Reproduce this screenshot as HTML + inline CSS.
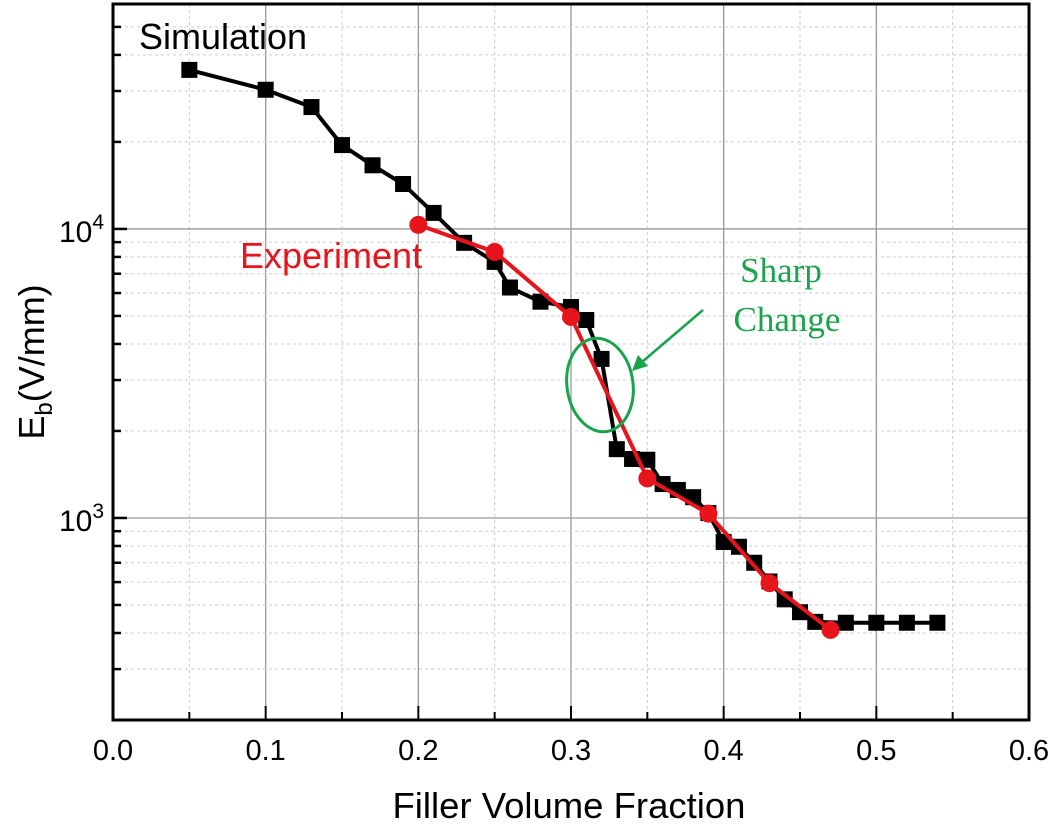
<!DOCTYPE html>
<html><head><meta charset="utf-8"><style>
body{margin:0;background:#fff}
svg{display:block;font-family:"Liberation Sans",sans-serif}
</style></head><body>
<svg id="chart" width="1050" height="828" viewBox="0 0 1050 828">
<g id="grid"></g>
<g id="axes"></g>
<g id="series"></g>
<text x="139" y="49" font-size="36" fill="#000">Simulation</text>
<text x="240" y="268" font-size="36" fill="#e8141c">Experiment</text>
<g>
<ellipse cx="600" cy="385" rx="33" ry="47" transform="rotate(-8 600 385)" fill="none" stroke="#19a34a" stroke-width="3"/>
<line x1="703" y1="310" x2="642" y2="362" stroke="#19a34a" stroke-width="2.5"/>
<polygon points="632,371 638,355 648,366" fill="#19a34a"/>
<text x="781" y="282" text-anchor="middle" font-family="Liberation Serif,serif" font-size="35" fill="#19a34a">Sharp</text>
<text x="787" y="331" text-anchor="middle" font-family="Liberation Serif,serif" font-size="35" fill="#19a34a">Change</text>
</g>
<text x="569" y="818" text-anchor="middle" font-size="36.5">Filler Volume Fraction</text>
<text transform="translate(44,362) rotate(-90)" text-anchor="middle" font-size="36">E<tspan font-size="24" dy="8">b</tspan><tspan dy="-8">(V/mm)</tspan></text>
</svg>
<script>
const simX=[0.05,0.10,0.13,0.15,0.17,0.19,0.21,0.23,0.25,0.26,0.28,0.30,0.31,0.32,0.33,0.34,0.35,0.36,0.37,0.38,0.39,0.40,0.41,0.42,0.43,0.44,0.45,0.46,0.48,0.50,0.52,0.54];
const simY=[35500,30300,26400,19500,16600,14300,11360,8950,7690,6270,5600,5370,4840,3550,1730,1600,1590,1310,1250,1180,1040,826,795,700,603,523,472,437,434,434,434,434];
const expX=[0.20,0.25,0.30,0.35,0.39,0.43,0.47];
const expY=[10330,8325,4960,1370,1035,595,410];
const xTicks=[0,0.1,0.2,0.3,0.4,0.5,0.6];
const xTickLabels=["0.0","0.1","0.2","0.3","0.4","0.5","0.6"];
const yMajor=[1000,10000];
const yMajorLabels=["3","4"];
const L=113,R=1029,T=4,B=720,XMIN=0,XMAX=0.6,YMIN=200,YMAX=60000;
const NS="http://www.w3.org/2000/svg";
const sx=v=>L+(v-XMIN)/(XMAX-XMIN)*(R-L);
const sy=v=>B-(Math.log10(v)-Math.log10(YMIN))/(Math.log10(YMAX)-Math.log10(YMIN))*(B-T);
function mk(tag,attrs,parent){const e=document.createElementNS(NS,tag);for(const k in attrs)e.setAttribute(k,attrs[k]);parent.appendChild(e);return e;}
const grid=document.getElementById('grid'),axes=document.getElementById('axes'),ser=document.getElementById('series');
for(let i=1;i<12;i++){const v=i*0.05;const x=sx(v);const maj=i%2===0;
 const g=mk('line',{x1:x,x2:x,y1:T,y2:B,stroke:maj?'#999':'#ccc','stroke-width':maj?1.3:1,'stroke-dasharray':maj?'':'3,3'},grid);
 
 
 const t=mk('line',{x1:x,x2:x,y1:B,y2:B-(maj?14:8),stroke:'#000','stroke-width':2},axes);
 
 }
for(let d=100;d<=10000;d*=10){for(let m=1;m<10;m++){const v=d*m;if(v<YMIN||v>YMAX)continue;const y=sy(v);const maj=m===1;
 const g=mk('line',{x1:L,x2:R,y1:y,y2:y,stroke:maj?'#999':'#ccc','stroke-width':maj?1.3:1,'stroke-dasharray':maj?'':'3,3'},grid);
 
 
 const t=mk('line',{x1:L,x2:L+(maj?14:8),y1:y,y2:y,stroke:'#000','stroke-width':2.5},axes);
 
 }}
const fr=mk('rect',{x:L,y:T,width:R-L,height:B-T,fill:'none',stroke:'#000','stroke-width':3},axes);


xTicks.forEach((v,i)=>{const t=mk('text',{x:sx(v),y:760,'text-anchor':'middle','font-size':29},axes);t.textContent=xTickLabels[i];
 
 });
yMajor.forEach((v,i)=>{const t=mk('text',{x:L-9,y:sy(v)+13,'text-anchor':'end','font-size':30},axes);
 t.appendChild(document.createTextNode('10'));const s=mk('tspan',{dy:-13,'font-size':21},t);s.textContent=yMajorLabels[i];
 
 });
function pts(X,Y){return X.map((x,i)=>sx(x)+','+sy(Y[i])).join(' ');}
const sl=mk('polyline',{points:pts(simX,simY),fill:'none',stroke:'#000','stroke-width':4,'stroke-linejoin':'round'},ser);


simX.forEach((x,i)=>{const r=mk('rect',{x:sx(x)-8,y:sy(simY[i])-8,width:16,height:16,fill:'#000'},ser);
 
 });
const el=mk('polyline',{points:pts(expX,expY),fill:'none',stroke:'#e8141c','stroke-width':4,'stroke-linejoin':'round'},ser);


expX.forEach((x,i)=>{const c=mk('circle',{cx:sx(x),cy:sy(expY[i]),r:9,fill:'#e8141c'},ser);
 
 });
</script>
</body></html>
